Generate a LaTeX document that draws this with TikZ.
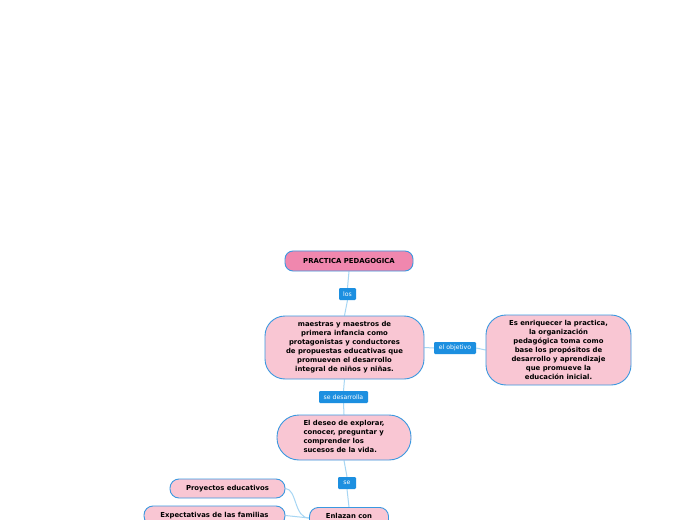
\documentclass[tikz,border=0pt]{standalone}
\usepackage{fontspec}
\setmainfont{DejaVu Sans}
\usetikzlibrary{backgrounds}
\definecolor{bordblue}{HTML}{3A98E0}
\definecolor{labblue}{HTML}{1C8FE0}
\definecolor{linkblue}{HTML}{A6D6F4}
\definecolor{pinklight}{HTML}{F9C6D3}
\definecolor{pinkdark}{HTML}{F087AE}
\tikzset{
  topic/.style={draw=bordblue, line width=0.9bp, fill=pinklight, rounded corners=#1,
    font=\fontsize{6.9}{9}\selectfont\bfseries, text=black, inner sep=0pt, align=center},
  topic/.default=18bp,
  rootbox/.style={topic=8bp, fill=pinkdark},
  lab/.style={fill=labblue, text=white, rounded corners=1.2bp, inner sep=0pt,
    minimum height=12bp, font=\fontsize{6.2}{7}\selectfont},
  link/.style={draw=linkblue, line width=1bp},
  plain/.style={inner sep=0pt, font=\fontsize{6.9}{9}\selectfont\bfseries}
}
\begin{document}
\begin{tikzpicture}[x=1bp,y=-1bp]
\useasboundingbox (0,0) rectangle (696,520);
\clip (0,0) rectangle (696,520);
\begin{scope}[on background layer]
\fill[white] (0,0) rectangle (696,520);
\end{scope}

% nodes
\node[rootbox, minimum width=128bp, minimum height=20bp] (root) at (349,261) {PRACTICA PEDAGOGICA};
\node[topic=20bp, minimum width=159bp, minimum height=63bp] (mae) at (344.5,347.5)
  {maestras y maestros de\\primera infancia como\\protagonistas y conductores\\de propuestas educativas que\\promueven el desarrollo\\integral de niños y niñas.};
\node[topic=20bp, minimum width=145bp, minimum height=70bp] (obj) at (558.5,350)
  {Es enriquecer la practica,\\la organización\\pedagógica toma como\\base los propósitos de\\desarrollo y aprendizaje\\que promueve la\\educación inicial.};
\node[topic=22bp, minimum width=134bp, minimum height=45bp] (des) at (344,437.5)
  {\begin{tabular}{@{}l@{}}El deseo de explorar,\\conocer, preguntar y\\comprender los\\sucesos de la vida.\end{tabular}};
\node[topic=9bp, minimum width=115bp, minimum height=19bp] (pro) at (227.5,488.5) {Proyectos educativos};
\node[topic=9bp, minimum width=141bp, minimum height=19bp] (exp) at (214.5,515.5) {Expectativas de las familias};
\node[topic=9bp, minimum width=79bp, minimum height=30bp, anchor=north] (enl) at (349,507) {};
\node[plain] (enltext) at (349,516) {Enlazan con};

% labels
\node[lab, minimum width=17bp] (los) at (347.5,294) {los};
\node[lab, minimum width=42bp] (elobj) at (455,348) {el objetivo};
\node[lab, minimum width=49bp] (sedes) at (343.5,397) {se desarrolla};
\node[lab, minimum width=18bp] (se) at (347,483) {se};

% connectors
\begin{scope}[on background layer]
\draw[link] (root.south) -- (los.north);
\draw[link] (los.south) -- (mae.north);
\draw[link] (mae.east) -- (elobj.west);
\draw[link] (elobj.east) -- (obj.west);
\draw[link] (mae.south) -- (sedes.north);
\draw[link] (sedes.south) -- (des.north);
\draw[link] (des.south) -- (se.north);
\draw[link] (se.south) -- (enl.north);
\coordinate (enlL) at (309,518);
\draw[link] (pro.east) .. controls (297,489) and (294,518) .. (enlL);
\draw[link] (exp.east) -- (enlL);
\end{scope}
\end{tikzpicture}
\end{document}
